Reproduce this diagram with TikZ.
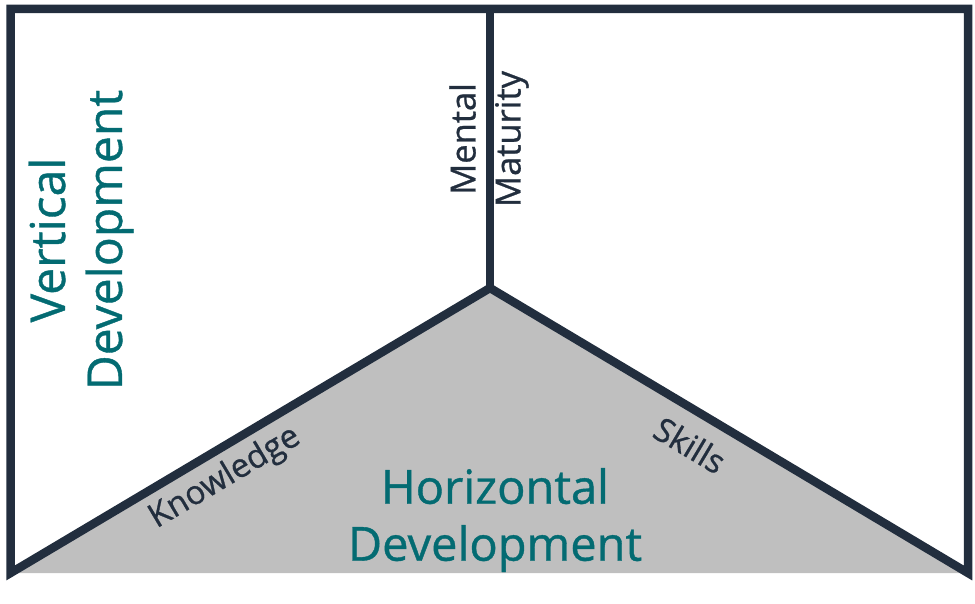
\documentclass[tikz,border=0pt]{standalone}
\usepackage{fontspec}
\setmainfont{Open Sans}
\newfontfamily\semifont{Open Sans}[FakeBold=0.8]
\definecolor{navy}{HTML}{222E3E}
\definecolor{teal}{HTML}{036B72}
\definecolor{fillgray}{HTML}{BFBFBF}
\begin{document}
\begin{tikzpicture}[x=1pt,y=-1pt,
  frame/.style={draw=navy,line width=8.5pt,line join=miter},
  bigtext/.style={text=teal,align=center,inner sep=0pt,font=\semifont\fontsize{47}{57}\selectfont},
  smalltext/.style={text=navy,align=center,inner sep=0pt,font=\semifont\fontsize{34.5}{45}\selectfont},
  edgetext/.style={text=navy,inner sep=0pt,font=\semifont\fontsize{33}{36}\selectfont}]
\useasboundingbox (0,0) rectangle (975,604);
\coordinate (bl) at (10.5,573);
\coordinate (tl) at (10.5,9);
\coordinate (tm) at (490,9);
\coordinate (tr) at (968,9);
\coordinate (br) at (968,573);
\coordinate (apex) at (490,288);
\fill[fillgray] (bl) -- (apex) -- (br) -- cycle;
\draw[frame] (bl) -- (tl) -- (tr) -- (br) -- (apex) -- cycle;
\draw[frame] (tm) -- (apex);
\node[bigtext,rotate=90,font=\semifont\fontsize{48}{57}\selectfont] (vert) at (81,240) {Vertical\\Development};
\node[bigtext] (horiz) at (495,520) {Horizontal\\Development};
\node[smalltext,rotate=90] (mental) at (489,139) {Mental\\Maturity};
\node[edgetext,rotate=30.7] (know) at (225,478) {Knowledge};
\node[edgetext,rotate=-30.8] (skills) at (690,445) {Skills};
\end{tikzpicture}
\end{document}
